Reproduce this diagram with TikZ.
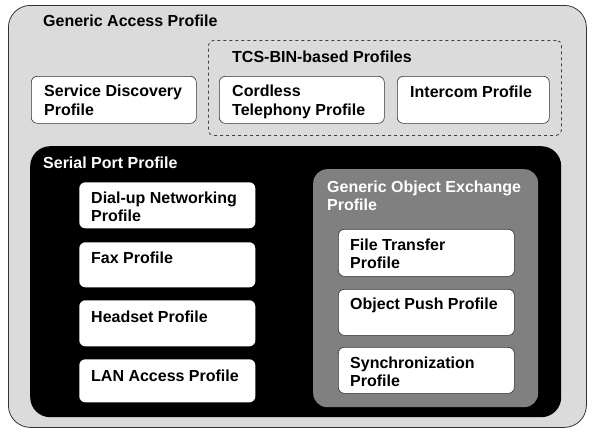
\documentclass[tikz,border=0pt]{standalone}
\usepackage{fontspec}
\setmainfont{Liberation Sans}
\begin{document}
\begin{tikzpicture}[x=1pt,y=-1pt,
  lbl/.style={anchor=base west,inner sep=0pt,font=\bfseries\fontsize{16}{18.5}\selectfont,align=left},
  wlbl/.style={lbl,text=white},
  outerbox/.style={draw=black!80,fill=black!14,line width=0.8pt,rounded corners=22pt,anchor=north west,inner sep=0pt},
  dashbox/.style={draw=black!75,dashed,line width=0.8pt,rounded corners=5pt,anchor=north west,inner sep=0pt},
  wbox/.style={draw=black!80,fill=white,line width=0.6pt,rounded corners=6pt,anchor=north west,inner sep=0pt},
  sppbox/.style={fill=black,rounded corners=20pt,anchor=north west,inner sep=0pt},
  goepbox/.style={fill=black!50,rounded corners=14pt,anchor=north west,inner sep=0pt}]
\useasboundingbox (0,0) rectangle (596,439);
% outer
\node[outerbox,minimum width=578pt,minimum height=422pt] (gap) at (8,5) {};
\node[lbl] (gapt) at (43,26) {Generic Access Profile};
% TCS-BIN
\node[dashbox,minimum width=353pt,minimum height=95pt] (tcs) at (208,40) {};
\node[lbl] (tcst) at (232,62) {TCS-BIN-based Profiles};
\node[wbox,minimum width=165pt,minimum height=47pt] (sdp) at (31,76) {};
\node[lbl] (sdpt) at (44,115) {Service Discovery\\Profile};
\node[wbox,minimum width=165pt,minimum height=47pt] (ctp) at (219,76) {};
\node[lbl] (ctpt) at (232,115) {Cordless\\Telephony Profile};
\node[wbox,minimum width=152pt,minimum height=47pt] (icp) at (397,76) {};
\node[lbl] (icpt) at (410,97) {Intercom Profile};
% SPP
\node[sppbox,minimum width=531pt,minimum height=271pt] (spp) at (30,146) {};
\node[wlbl] (sppt) at (43,168) {Serial Port Profile};
\node[wbox,draw=none,minimum width=176pt,minimum height=46pt] (dun) at (79,182) {};
\node[lbl] (dunt) at (91,221.5) {Dial-up Networking\\Profile};
\node[wbox,draw=none,minimum width=176pt,minimum height=45pt] (fax) at (79,242) {};
\node[lbl] (faxt) at (91,263) {Fax Profile};
\node[wbox,draw=none,minimum width=176pt,minimum height=46pt] (hsp) at (79,300) {};
\node[lbl] (hspt) at (91,322) {Headset Profile};
\node[wbox,draw=none,minimum width=176pt,minimum height=43pt] (lan) at (79,359) {};
\node[lbl] (lant) at (91,381) {LAN Access Profile};
% GOEP
\node[goepbox,minimum width=225pt,minimum height=238pt] (goep) at (313,169) {};
\node[wlbl] (goept) at (327,210.5) {Generic Object Exchange\\Profile};
\node[wbox,minimum width=176pt,minimum height=47pt] (ftp) at (338,229) {};
\node[lbl] (ftpt) at (350,268.5) {File Transfer\\Profile};
\node[wbox,minimum width=176pt,minimum height=46pt] (opp) at (338,289) {};
\node[lbl] (oppt) at (350,309) {Object Push Profile};
\node[wbox,minimum width=176pt,minimum height=46pt] (syn) at (338,347) {};
\node[lbl] (synt) at (350,386.5) {Synchronization\\Profile};
\end{tikzpicture}
\end{document}
